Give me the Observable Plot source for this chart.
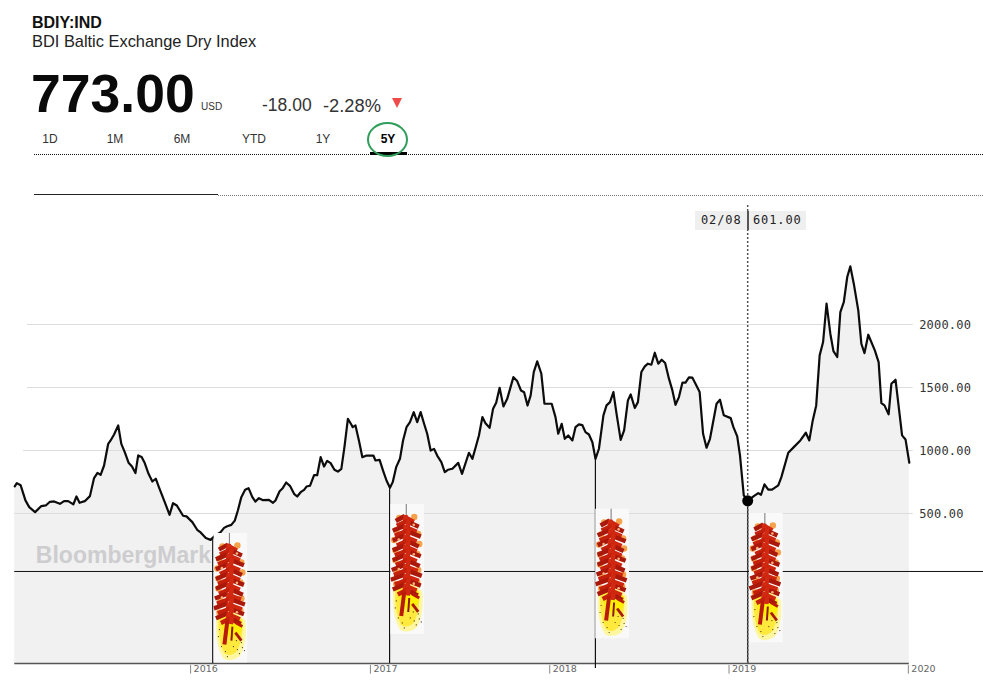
<!DOCTYPE html>
<html>
<head>
<meta charset="utf-8">
<script src="https://cdn.jsdelivr.net/npm/d3@7"></script>
<script src="https://cdn.jsdelivr.net/npm/@observablehq/plot@0.6"></script>
<style>
  html,body{margin:0;padding:0;background:#fff;overflow:hidden}
  #page{position:relative;width:983px;height:682px;font-family:"Liberation Sans",Arial,sans-serif;color:#111}
  #head{position:relative;height:200px}
  #head div,#tip div{position:absolute;white-space:nowrap}
  #chart svg{display:block;position:absolute;left:0;top:200px}
  .mono text{letter-spacing:.2px}
  #tip{position:absolute;left:695px;top:211px;width:111px;height:19px;background:#efefef;font:12px "DejaVu Sans Mono",monospace;letter-spacing:.9px;color:#222;line-height:19px}
</style>
</head>
<body>
<div id="page">
  <div id="head"></div>
  <div id="chart"></div>
</div>
<script>
// Weeks counted from the first reading, and the index value at each of them.
const startDate = "2015-01-08";
const weeks = [0,0.6,1.7,3.1,4.2,5.9,7.7,9,10.2,11.4,13.1,14.3,15.5,17,17.9,18.8,20.3,21.8,23,24,24.9,25.9,27.1,27.8,28.8,30,30.9,31.9,33,34,35,35.8,36.8,37.7,38.8,39.9,40.9,41.8,43.3,44.9,45.9,47,48.8,49.8,51.5,52.9,53.9,55.4,56.8,57.8,
  59.7,60.7,61.6,62.8,63.8,64.7,65.7,66.8,67.8,68.9,69.8,70.8,72,73.7,74.9,75.6,76.8,77.7,78.7,79.8,81,81.9,82.9,83.9,84.6,85.6,86.8,87.7,88.7,89.7,90.6,91.6,92.7,93.7,94.7,95.6,96.6,97.6,98,98.8,99.8,100.8,102,104,104.6,105.8,106.8,107.8,108.8,109.6,110.6,111.7,112.6,113.6,114.6,115.7,116.7,117.7,
  118.7,119.6,120.6,121.6,122.5,123.7,124.7,125.6,126.9,128.6,129.7,131.7,132.7,133.8,134.6,135.6,136.5,137.7,138.7,139.6,140.6,141.7,142.8,144.6,145.7,146.8,147.7,148.7,149.6,150.5,151.5,152.7,153.6,155.7,156.8,157.6,158.6,159.5,160.5,161.7,162.6,163.6,164.6,165.5,166.5,167.5,168.4,169.4,
  170.7,171.6,172.6,173.6,174.5,175.7,176.7,177.8,178.6,179.8,180.7,181.7,182.7,183.6,184.6,185.6,186.6,187.6,188.6,189.7,190.7,191.6,192.6,193.6,194.5,195.5,196.5,197.4,198.6,199.6,200.6,201.6,203.5,204.5,205.6,207.6,208.4,209.5,210.3,211.4,212.5,
  214.3,215.6,216.4,217.4,218.5,219.6,221.4,222.3,224.3,225.9,227.8,229.4,230.4,231.4,232.4,233.4,234.4,235.4,236.5,237.4,238.5,239.4,240.4,241.4,242.3,243.3,244.6,245.5,246.4,247.5,249.4,250.5,251.3,252.2,253.4,254.2,255.4,257.3,258.3,259.4];
const values = [715,741,725,604,551,511,559,564,593,596,577,598,598,572,635,585,598,638,781,823,807,881,1053,1080,1127,1199,1053,987,903,873,821,961,948,900,815,754,776,709,604,490,582,564,482,477,432,371,350,305,291,318,
  352,386,399,410,444,524,630,688,701,630,595,622,606,609,585,603,677,701,746,720,656,635,669,688,714,720,804,804,947,873,918,900,847,833,855,1027,1251,1206,1185,1199,1079,947,960,960,921,926,841,762,704,749,868,934,1079,1185,1225,1304,1225,1305,
  1212,1133,1000,1013,960,908,828,847,855,902,815,982,934,1040,1119,1265,1217,1180,1331,1379,1498,1350,1410,1582,1551,1476,1463,1357,1437,1622,1707,1609,1371,1371,1265,1133,1212,1093,1119,1080,1185,1207,1201,1146,1127,1066,934,1014,
  1279,1358,1384,1464,1292,1085,1160,1398,1445,1337,1384,1623,1668,1689,1681,1776,1689,1720,1694,1570,1477,1363,1424,1538,1538,1580,1578,1530,1464,1133,1022,1093,1371,1403,1279,1257,1186,1112,961,644,601,
  638,662,649,731,689,689,723,789,982,1027,1080,1141,1080,1239,1358,1755,1861,2165,1927,1789,1742,2099,2178,2377,2461,2324,2112,1847,1773,1919,1795,1702,1376,1358,1287,1530,1562,1120,1088,903];

const yTicks = [500,1000,1500,2000];
const yTickLabels = ["500.00","1000.00","1500.00","2000.00"];
const gridStarts = ["2015-01-08","2015-01-26","2015-02-03","2015-02-03"];
const yearTicks = ["2016-01-01","2017-01-01","2018-01-01","2019-01-01","2020-01-01"];
const yearLabels = ["2016","2017","2018","2019","2020"];
// Lunar-new-year markers: the date, and the index level the marker rises to.
const markerDates = ["2016-02-15","2017-02-09","2018-04-04","2019-02-08"];
const markerTops = [310,698,944,601];
const markerBottoms = [-690,-690,-730,-690];
const crackerDates = ["2016-03-22","2017-03-17","2018-05-08","2019-03-17"];
const crackerLevels = [-167,60,24,-8];
const tabs = ["1D","1M","6M","YTD","1Y","5Y"];
const tabCenters = [50,115,182,254,323,388];
const highlight = {date:"2019-02-08", value:601, label:"02/08", text:"601.00"};

const D = s => new Date(s + "T00:00:00Z");
const start = D(startDate);
const series = weeks.map((w,i) => ({date:new Date(+start + w*7.02*864e5), value:values[i]}));
const lastDate = series[series.length-1].date;
const floor = -690, crossLevel = 40;
const domainEnd = D("2020-06-02");
const gridEnd = D("2020-01-11");
const labelX = D("2020-01-23");

// Firecracker string as a small vector picture used by Plot.image.
function firecracker(){
  const W=34,H=130;
  const halfWidths=[9,11,12,13,12,11,12,13,12,12,13,14,14,13,12,10];
  let s=`<svg xmlns='http://www.w3.org/2000/svg' width='${W}' height='${H}' viewBox='0 0 ${W} ${H}'>`;
  s+=`<rect width='${W}' height='${H}' fill='#f9f9f9'/>`;
  // sparks
  s+=`<path d='M3 84 Q1 112 10 126 Q18 130 26 124 Q34 112 32 88 Q18 70 3 84Z' fill='#fff6a0'/>`;
  s+=`<path d='M5 86 Q4 108 11 121 Q18 125 24 118 Q30 106 29 88 Q18 74 5 86Z' fill='#ffe93c'/>`;
  s+=`<ellipse cx='19' cy='93' rx='10' ry='11' fill='#fff000'/>`;
  // orange glow behind the string
  [[6,26],[4,36],[5,46],[5,56],[28,30],[29,40],[27,50],[7,68],[28,66],[9,14],[24,13],[6,80],[27,78]].forEach(([x,y])=>{
    s+=`<circle cx='${x}' cy='${y}' r='3.2' fill='#f6a24a'/>`;
  });
  s+=`<line x1='16' y1='0' x2='16' y2='14' stroke='#777' stroke-width='1'/>`;
  halfWidths.forEach((hw,i)=>{
    const y=12+i*4.9, cx=16+(i%2?1.5:-1.5);
    s+=`<line x1='${cx}' y1='${y}' x2='${cx-hw}' y2='${y+5}' stroke='${i%2?"#c4200c":"#a9180a"}' stroke-width='4.4'/>`;
    s+=`<line x1='${cx}' y1='${y+1}' x2='${cx+hw}' y2='${y+6}' stroke='${i%2?"#a9180a":"#cf2610"}' stroke-width='4.4'/>`;
    s+=`<line x1='${cx+1}' y1='${y-1}' x2='${cx}' y2='${y+6}' stroke='#d22a12' stroke-width='4.4'/>`;
    if(i%3===1) s+=`<circle cx='${cx+(i%2?6:-6)}' cy='${y+4}' r='1.3' fill='#ffb27a'/>`;
  });
  s+=`<line x1='14' y1='88' x2='11' y2='112' stroke='#b81b0a' stroke-width='4'/>`;
  s+=`<line x1='19' y1='94' x2='18' y2='108' stroke='#8f1808' stroke-width='2'/>`;
  s+=`<line x1='22' y1='100' x2='28' y2='108' stroke='#a81a0a' stroke-width='2.8'/>`;
  s+=`<line x1='22' y1='90' x2='29' y2='94' stroke='#b81b0a' stroke-width='3'/>`;
  [[5,104],[8,114],[12,119],[20,114],[24,117],[28,110],[29,115],[6,97],[26,121],[31,118],[23,108],[14,124]].forEach(([x,y])=>{
    s+=`<circle cx='${x}' cy='${y}' r='.6' fill='#4a3000'/>`;
  });
  return "data:image/svg+xml;charset=utf-8,"+encodeURIComponent(s+"</svg>");
}
const crackerSrc = firecracker();

const chart = Plot.plot({
  width:983, height:482,
  marginTop:0, marginRight:0, marginBottom:0, marginLeft:0,
  x:{type:"utc", domain:[D("2014-12-10"),domainEnd], range:[0,983], axis:null},
  y:{type:"linear", domain:[-841,2984], range:[482,0], axis:null},
  style:{background:"transparent", overflow:"visible"},
  marks:[
    Plot.areaY(series,{x:"date", y1:()=>floor, y2:"value", fill:"#f1f1f1", curve:"linear"}),
    Plot.ruleY(yTicks,{y:d=>d, x1:(d,i)=>D(gridStarts[i]), x2:()=>gridEnd, stroke:"#dcdcdc", strokeWidth:1.2}),
    Plot.ruleY([crossLevel],{x1:()=>start, x2:()=>domainEnd, stroke:"#111", strokeWidth:1}),
    Plot.ruleY([floor],{x1:()=>start, x2:()=>lastDate, stroke:"#555", strokeWidth:1.5}),
    Plot.text(["BloombergMark"],{x:()=>D("2015-02-20"), y:()=>167, text:d=>d, textAnchor:"start", fill:"#cdcdcf", fontSize:23, fontWeight:"bold", fontFamily:"Liberation Sans"}),
    Plot.ruleX(markerDates,{x:d=>D(d), y1:(d,i)=>markerTops[i], y2:(d,i)=>markerBottoms[i], stroke:"#111", strokeWidth:1.2}),
    Plot.ruleX([highlight],{x:d=>D(d.date), y1:()=>2944, y2:()=>floor, stroke:"#555", strokeWidth:1.5, strokeDasharray:"2,2"}),
    Plot.line(series,{x:"date", y:"value", stroke:"#0c0c0c", strokeWidth:2.2, curve:"linear", strokeLinejoin:"round"}),
    Plot.image(crackerDates,{x:d=>D(d), y:(d,i)=>crackerLevels[i], src:()=>crackerSrc, width:34, height:130}),
    Plot.dot([highlight],{x:d=>D(d.date), y:"value", r:5.5, fill:"#000"}),
    Plot.text(yTickLabels,{x:()=>labelX, y:(d,i)=>yTicks[i], dy:0.5, text:d=>d, textAnchor:"start", fill:"#333", fontSize:12, fontFamily:"DejaVu Sans Mono", className:"mono"}),
    Plot.ruleX(yearTicks,{x:d=>D(d), y1:()=>floor-15, y2:()=>floor-85, stroke:"#888", strokeWidth:1}),
    Plot.text(yearLabels,{x:(d,i)=>D(yearTicks[i]), y:()=>-730, dx:3, text:d=>d, textAnchor:"start", fill:"#666", fontSize:9.5, fontFamily:"DejaVu Sans"})
  ]
});
document.getElementById("chart").appendChild(chart);

// Header
const head = document.getElementById("head");
function put(txt,css){const e=document.createElement("div");e.textContent=txt;e.style.cssText=css;head.appendChild(e);return e;}
put("BDIY:IND","left:32px;top:14px;font-size:16px;font-weight:bold;line-height:18px");
put("BDI Baltic Exchange Dry Index","left:32px;top:32px;font-size:16.4px;line-height:18px;color:#222");
put("773.00","left:31px;top:64px;font-size:53.5px;font-weight:bold;line-height:60px;color:#0a0a0a");
put("USD","left:201px;top:101px;font-size:10px;line-height:12px;color:#333");
put("-18.00","left:262px;top:95px;font-size:17.5px;line-height:21px;color:#333");
put("-2.28%","left:323px;top:95px;font-size:18.3px;line-height:21px;color:#333");
put("","left:392px;top:98px;width:0;height:0;border-left:5.5px solid transparent;border-right:5.5px solid transparent;border-top:10px solid #ef4b4b");
tabs.forEach((t,i)=>{
  const on=t==="5Y";
  put(t,`left:${tabCenters[i]-25}px;width:50px;text-align:center;top:132px;font-size:12px;line-height:15px;color:${on?"#000":"#333"};font-weight:${on?"bold":"normal"}`);
});
put("","left:34px;top:154px;width:949px;border-top:1px dotted #111");
put("","left:370px;top:152px;width:37px;height:3px;background:#000");
put("","left:34px;top:194px;width:184px;border-top:1px solid #222");
put("","left:218px;top:195px;width:765px;border-top:1px dotted #777");
put("","left:367px;top:122px;width:37px;height:31px;border:2.4px solid #2f9e5a;border-radius:50%");

// Read-out above the cursor line
const tip=document.createElement("div");tip.id="tip";
tip.innerHTML=`<div style="left:6px">${highlight.label}</div><div style="left:52px;top:0;width:1.5px;height:19px;background:#555"></div><div style="left:58px">${highlight.text}</div>`;
document.getElementById("page").appendChild(tip);
</script>
</body>
</html>
